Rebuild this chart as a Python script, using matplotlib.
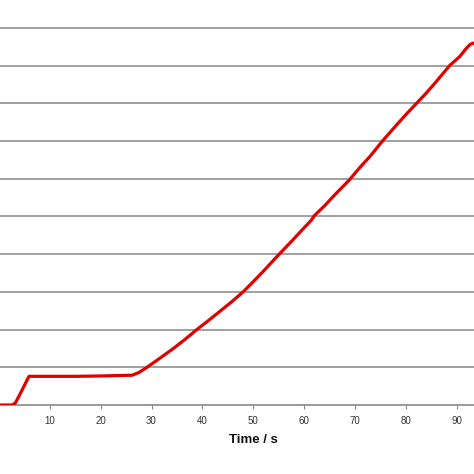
import matplotlib
matplotlib.use("Agg")
import matplotlib.pyplot as plt

# data (time in s, signal in grid units)
time_s = [0, 2.6, 3.2, 3.8, 5.9, 10, 15, 20, 26.2, 27.5, 29.1,
          31, 34, 36.5, 38.9, 41, 43.4, 45.7, 48.0, 50, 52, 55.1, 57.8,
          60, 61.4, 62.0, 64, 66, 68.9, 70.9, 73, 75.4, 78, 80, 82.1, 84,
          86, 88.6, 90.6, 91.9, 92.7, 93.4]
signal = [0, 0, 0.05, 0.2, 0.76, 0.76, 0.76, 0.77, 0.79, 0.86, 1.0,
          1.18, 1.47, 1.73, 2.0, 2.22, 2.48, 2.73, 3.0, 3.27, 3.55, 4.0, 4.38,
          4.7, 4.9, 5.02, 5.28, 5.57, 5.97, 6.29, 6.6, 7.0, 7.4, 7.7, 8.0, 8.27,
          8.58, 9.0, 9.24, 9.46, 9.57, 9.6]
xticks = [10, 20, 30, 40, 50, 60, 70, 80, 90]
grid_levels = [1, 2, 3, 4, 5, 6, 7, 8, 9, 10]

fig = plt.figure(figsize=(4.74, 4.74), dpi=100)
ax = fig.add_axes([0, 69 / 474, 1, 405 / 474])

for g in grid_levels:
    ax.axhline(g, color="#999999", lw=1.3, zorder=1)

ax.plot(time_s, signal, color="#e00000", lw=2.3, zorder=3, solid_capstyle="round")

ax.set_xlim(0.2, 93.4)
ax.set_ylim(0, 10.74)

for side in ["left", "right", "top"]:
    ax.spines[side].set_visible(False)
ax.spines["bottom"].set_color("#888888")
ax.spines["bottom"].set_linewidth(1.2)

ax.set_yticks([])
ax.set_xticks(xticks)
ax.set_xticklabels([str(t) for t in xticks],
                   family=["Liberation Sans Narrow", "Liberation Sans"],
                   fontsize=7, color="#333333")
ax.tick_params(axis="x", length=3, width=0.8, color="#888888", pad=5)

ax.set_xlabel("Time / s", family=["Liberation Sans Narrow", "Liberation Sans"],
              fontsize=9.5, fontweight="bold", color="#111111")
ax.xaxis.set_label_coords(0.534, -0.072)

fig.savefig("out.png", dpi=100)
